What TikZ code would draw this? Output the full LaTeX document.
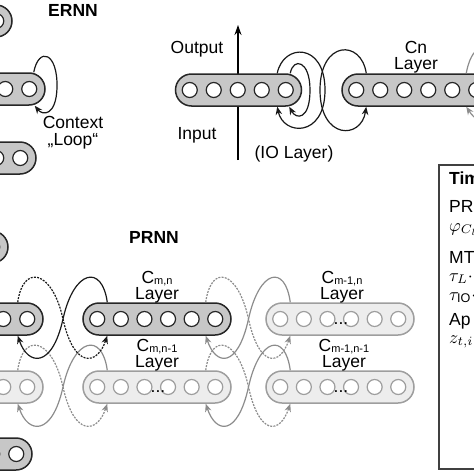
\documentclass[tikz,border=0pt]{standalone}
\usepackage{fontspec}
\usepackage{graphicx}
\setmainfont{Liberation Sans}
\usetikzlibrary{calc}
\usetikzlibrary{arrows.meta}

\tikzset{
  layer/.style={draw=black!85, fill=black!22, line width=1.5pt, rounded corners=16pt, minimum height=32pt, inner sep=0pt},
  fadelayer/.style={layer, draw=black!38, fill=black!7},
  unit/.style={circle, draw=black!85, fill=white, line width=1.2pt, minimum size=15pt, inner sep=0pt},
  fadeunit/.style={unit, draw=black!38},
  link/.style={line width=1.2pt, draw=black!90, -{Stealth[length=8pt,width=6.5pt]}},
  fadelink/.style={link, draw=black!45},
  txt/.style={inner sep=0pt, font=\fontsize{17.5}{17}\selectfont},
  lbl/.style={txt, align=center, font=\fontsize{17.5}{16}\selectfont},
  title/.style={inner sep=0pt, font=\fontsize{17.5}{17}\selectfont\bfseries},
  mth/.style={inner sep=0pt, anchor=base west},
}

% subscript of the layer names
\newcommand{\lsub}[1]{\raisebox{-1pt}[0pt][0pt]{\fontsize{11}{12}\selectfont #1}}
% formulas in the time box
\newcommand{\boxmath}[1]{\scalebox{1.8}{#1}}

% a layer: style prefix, name, centre, width, number of units
\newcommand{\putlayer}[5]{%
  \node[#1layer, minimum width=#4pt] (#2) at (#3) {};
  \foreach \k in {1,...,#5}
    \node[#1unit] (#2-\k) at ($(#2.west)+({15+(\k-1)*(#4-30)/(#5-1)},0)$) {};
}

% crossed loops between two neighbouring layers
\newcommand{\twist}[3]{%
  \coordinate (mid) at ($(#2.east)!0.5!(#3.west)$);
  \draw[#1link, dash pattern=on 2pt off 1.2pt] ($(#2.north east)+(-26,0)$) .. controls +(5,-38) and +(-11,-50) .. (mid) .. controls +(11,50) and +(-10,30) .. ($(#3.south west)+(25,0)$);
  \draw[#1link] ($(#3.north west)+(25,0)$) .. controls +(-5,-38) and +(11,-50) .. (mid) .. controls +(-11,50) and +(10,30) .. ($(#2.south east)+(-26,0)$);
}

\begin{document}
\begin{tikzpicture}[x=1pt, y=-1pt]
  \useasboundingbox (0,0) rectangle (474,474);

  % ERNN
  \node[title] (ernnt) at (73,10) {ERNN};
  \putlayer{}{tl}{-27,21}{78}{3}
  \putlayer{}{ernn}{-6,89}{102}{4}
  \putlayer{}{ernnb}{-15,158}{102}{4}
  \coordinate (ctx) at (57,88);
  \draw[link] ($(ernn.north east)+(-12,0)$) .. controls +(5,-26) and +(1,-36) .. (ctx) .. controls +(-1,28) and +(8,10) .. ($(ernn.south east)+(-11,0)$);
  \node[txt, align=center] (ctxt) at (73,133) {Context\\„Loop“};

  % IO layer
  \coordinate (in) at (238,160);
  \coordinate (out) at (238,25);
  \draw[line width=1.2pt, -{Stealth[length=10pt,width=7pt]}] (in) -- (out);
  \node[txt] (outt) at (197,49) {Output};
  \node[txt] (int) at (197,135) {Input};
  \putlayer{}{io}{238.5,90}{126}{5}
  \node[txt] (iot) at (294,154) {(IO Layer)};
  \coordinate (ioR) at (325,90);
  \coordinate (ioRi) at (310,90);
  \draw[link] ($(io.north east)+(-25,0)$) .. controls +(6,-30) and +(0,-48) .. (ioR) .. controls +(0,48) and +(6,29) .. ($(io.south east)+(-25,0)$);
  \draw[link] ($(io.north east)+(-12,0)$) .. controls +(3,-16) and +(0,-30) .. (ioRi) .. controls +(0,30) and +(7,13) .. ($(io.south east)+(-13,0)$);

  % Cn layer
  \putlayer{}{cn}{417,90}{150}{6}
  \node[lbl] (cnt) at (416,57) {Cn\\Layer};
  \coordinate (cnL) at (320,90);
  \draw[link] ($(cn.north west)+(25,0)$) .. controls +(-5,-34) and +(0,-50) .. (cnL) .. controls +(0,50) and +(-5,33) .. ($(cn.south west)+(25,0)$);
  \coordinate (nx1) at (492,44);
  \coordinate (nx2) at (496,124);
  \draw[fadelink, -] ($(cn.north west)+(125,0)$) .. controls +(4,-22) and +(-12,0) .. (nx1);
  \draw[fadelink] (nx2) .. controls +(-15,0) and +(8,12) .. ($(cn.south west)+(125,0)$);

  % PRNN
  \node[title] (prnnt) at (154,237) {PRNN};
  \putlayer{}{pz}{-31,247}{78}{3}
  \putlayer{fade}{qa}{-8,387}{102}{4}
  \putlayer{fade}{qmn}{157,387}{148}{6}
  \putlayer{fade}{qmm}{340,387}{148}{6}
  \putlayer{}{pa}{-8,319}{102}{4}
  \putlayer{}{pmn}{157,319}{148}{6}
  \putlayer{fade}{pmm}{340,319}{148}{6}
  \putlayer{}{pb}{-7,454}{78}{3}
  \node[txt] at ($(qmn)+(1,5)$) {...};
  \node[txt] at ($(qmm)+(1,5)$) {...};
  \node[txt] at ($(pmm)+(1,5)$) {...};

  \twist{fade}{qa}{qmn}
  \twist{fade}{qmn}{qmm}
  \twist{}{pa}{pmn}
  \twist{fade}{pmn}{pmm}

  \node[lbl] (pmnt) at (157,287) {C\lsub{m,n}\\Layer};
  \node[lbl] (qmnt) at (157,355) {C\lsub{m,n-1}\\Layer};
  \node[lbl] (pmmt) at (342,287) {C\lsub{m-1,n}\\Layer};
  \node[lbl] (qmmt) at (344,355) {C\lsub{m-1,n-1}\\Layer};

  % Time box
  \draw[line width=1.8pt, draw=black!75] (439,165) rectangle (540,469);
  \node[title, anchor=base west] (tt) at (449,184) {Time};
  \node[txt, anchor=base west] (t1) at (449,212) {PRNN};
  \node[mth] (t2) at (449,231) {\boxmath{$\varphi_{C_{l}}$}};
  \node[txt, anchor=base west] (t3) at (449,263) {MTRNN};
  \node[mth] (t4) at (449,281) {\boxmath{$\tau_{L}\cdot$}};
  \node[mth] (t5) at (449,300) {\boxmath{$\tau_{\mathrm{IO}}\cdot$}};
  \node[txt, anchor=base west] (t6) at (449,325) {Ap};
  \node[mth] (t7) at (449,343) {\boxmath{$z_{t,i}$}};
\end{tikzpicture}
\end{document}
